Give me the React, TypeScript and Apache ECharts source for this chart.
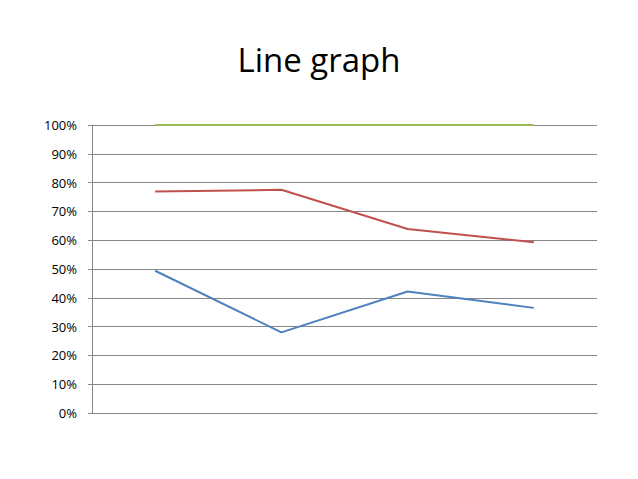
import React, { useEffect, useRef } from "react";
import * as echarts from "echarts";

const categories = ["A", "B", "C", "D"];
const seriesBlue = [49.4, 28.0, 42.2, 36.5];
const seriesRed = [76.9, 77.5, 63.9, 59.3];
const seriesGreen = [100, 100, 100, 100];
const yTicks = [0, 10, 20, 30, 40, 50, 60, 70, 80, 90, 100];

export default function App() {
  const ref = useRef<HTMLDivElement>(null);
  useEffect(() => {
    if (!ref.current) return;
    const chart = echarts.init(ref.current, null, { renderer: "svg" });
    const line = (name: string, data: number[], color: string) => ({
      name,
      type: "line",
      data,
      symbol: "none",
      lineStyle: { color, width: 2 },
      itemStyle: { color },
    });
    chart.setOption({
      animation: false,
      backgroundColor: "#ffffff",
      title: {
        text: "Line graph",
        left: "center",
        top: 38,
        textStyle: {
          fontFamily: "Open Sans",
          fontSize: 33,
          fontWeight: "normal",
          color: "#000000",
        },
      },
      grid: { left: 92, right: 41, top: 125, bottom: 66 },
      xAxis: {
        type: "category",
        data: categories,
        boundaryGap: true,
        axisLine: { show: true, lineStyle: { color: "#868686", width: 1 } },
        axisTick: { show: false },
        axisLabel: { show: false },
      },
      yAxis: {
        type: "value",
        min: yTicks[0],
        max: yTicks[yTicks.length - 1],
        interval: 10,
        axisLine: { show: true, lineStyle: { color: "#868686", width: 1 } },
        axisTick: { show: true, length: 4, lineStyle: { color: "#868686" } },
        axisLabel: {
          formatter: "{value}%",
          margin: 15,
          fontFamily: "Open Sans",
          fontSize: 13,
          color: "#000000",
        },
        splitLine: { show: true, lineStyle: { color: "#868686", width: 1 } },
      },
      series: [
        line("Series 1", seriesBlue, "#4F81BD"),
        line("Series 2", seriesRed, "#C0504D"),
        line("Series 3", seriesGreen, "#9BBB59"),
      ],
    });
    return () => chart.dispose();
  }, []);
  return (
    <div
      ref={ref}
      style={{ position: "absolute", left: 0, top: 0, width: 638, height: 479 }}
    />
  );
}
